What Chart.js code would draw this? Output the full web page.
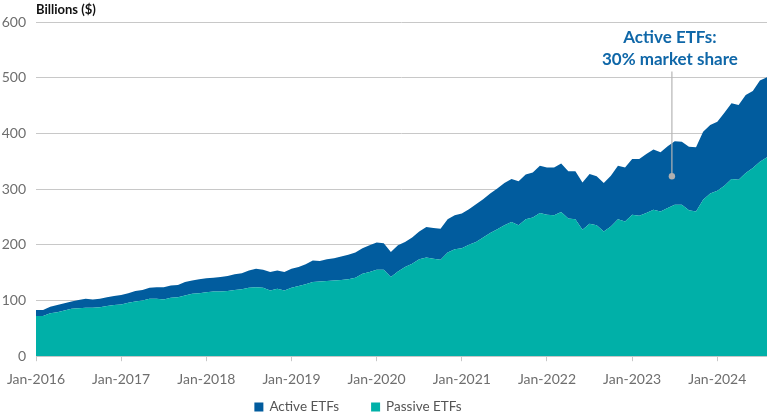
<!DOCTYPE html>
<html>
<head>
<meta charset="utf-8">
<script src="https://cdn.jsdelivr.net/npm/chart.js@4.4.1/dist/chart.umd.min.js"></script>
<style>
  html, body { margin: 0; padding: 0; background: #fff; overflow: hidden; }
  #wrap { width: 767px; height: 415px; position: relative; }
  #etfChart { display: block; }
</style>
</head>
<body>
<div id="wrap"><canvas id="etfChart"></canvas></div>
<script>
// monthly, Jan-2016 .. Aug-2024, billions of dollars
var monthNames = ['Jan', 'Feb', 'Mar', 'Apr', 'May', 'Jun', 'Jul', 'Aug', 'Sep', 'Oct', 'Nov', 'Dec'];
var firstYear = 2016;
var monthCount = 104;

var passiveEtfs = [
    72, 72, 77, 79, 82, 85, 86, 87, 87, 88, 90, 92,
    93, 96, 98, 100, 103, 103, 102, 105, 106, 109, 112, 113,
    115, 116, 116, 117, 119, 120, 123, 124, 123, 118, 121, 118,
    123, 126, 129, 133, 134, 135, 136, 137, 138, 141, 148, 151,
    155, 155, 142, 152, 160, 166, 174, 177, 175, 173, 186, 192,
    194, 200, 205, 213, 221, 228, 235, 241, 235, 246, 249, 257,
    254, 253, 259, 247, 246, 227, 238, 235, 224, 233, 246, 242,
    254, 252, 257, 263, 260, 266, 272, 272, 262, 260, 281, 292,
    297, 306, 318, 317, 329, 338, 349, 357
];
var activeEtfs = [
    11, 11, 12, 13, 13, 13, 15, 16, 15, 15, 16, 16,
    17, 17, 19, 19, 20, 21, 22, 22, 22, 24, 24, 25,
    25, 25, 26, 27, 28, 29, 31, 33, 32, 33, 33, 33,
    34, 34, 36, 39, 37, 39, 40, 42, 44, 45, 46, 48,
    49, 48, 45, 47, 45, 47, 50, 55, 55, 56, 60, 61,
    62, 64, 68, 69, 71, 73, 76, 77, 79, 80, 81, 85,
    85, 86, 87, 85, 86, 85, 89, 88, 87, 91, 96, 97,
    100, 102, 106, 108, 106, 111, 114, 113, 114, 115, 122, 123,
    124, 131, 136, 134, 140, 138, 146, 144
];

// callout: "Active ETFs: 30% market share"
var calloutLines = ['Active ETFs:', '30% market share'];
var calloutPoint = { month: 89.6, value: 323 };

var monthLabels = [];
for (var i = 0; i < monthCount; i++) {
    monthLabels.push(monthNames[i % 12] + '-' + (firstYear + Math.floor(i / 12)));
}

var activeBlue = '#015c9e';
var passiveTeal = '#00b0a8';

var extrasPlugin = {
    id: 'extras',
    afterDatasetsDraw: function (chart) {
        var c = chart.ctx;
        var x = chart.scales.x;
        var y = chart.scales.y;
        var area = chart.chartArea;
        c.save();

        // axis unit above the plot
        c.fillStyle = '#111';
        c.font = 'bold 13px Lato';
        c.textAlign = 'left';
        c.textBaseline = 'middle';
        c.fillText('Billions ($)', area.left, 10);

        // callout text, leader line and dot
        var px = x.getPixelForValue(calloutPoint.month);
        var py = y.getPixelForValue(calloutPoint.value);
        c.fillStyle = '#0f67a8';
        c.font = 'bold 17px Lato';
        c.textAlign = 'center';
        c.fillText(calloutLines[0], px - 2, y.getPixelForValue(572));
        c.fillText(calloutLines[1], px - 2, y.getPixelForValue(532));

        c.strokeStyle = '#b5b5b5';
        c.lineWidth = 1.2;
        c.beginPath();
        c.moveTo(px, y.getPixelForValue(511));
        c.lineTo(px, py);
        c.stroke();
        c.fillStyle = '#b0b0b0';
        c.beginPath();
        c.arc(px, py, 3.2, 0, Math.PI * 2);
        c.fill();

        // legend (Active first), a bit left of centre like the original
        var items = chart.data.datasets.slice().reverse();
        c.font = '13.5px Lato';
        c.textAlign = 'left';
        var box = 9, gap = 6, between = 32;
        var widths = items.map(function (d) { return box + gap + c.measureText(d.label).width; });
        var total = widths.reduce(function (a, b) { return a + b; }, 0) + between * (items.length - 1);
        var lx = 358 - total / 2;
        var ly = chart.height - 8;
        items.forEach(function (d, k) {
            c.fillStyle = d.backgroundColor;
            c.fillRect(lx, ly - box / 2, box, box);
            c.fillStyle = '#555';
            c.fillText(d.label, lx + box + gap, ly);
            lx += widths[k] + between;
        });
        c.restore();
    }
};

var ctx = document.getElementById('etfChart').getContext('2d');
var etfChart = new Chart(ctx, {
    type: 'line',
    data: {
        labels: monthLabels,
        datasets: [{
            label: 'Passive ETFs',
            data: passiveEtfs,
            backgroundColor: passiveTeal,
            borderColor: passiveTeal,
            borderWidth: 0,
            pointRadius: 0,
            fill: 'origin',
            tension: 0
        }, {
            label: 'Active ETFs',
            data: activeEtfs,
            backgroundColor: activeBlue,
            borderColor: activeBlue,
            borderWidth: 0,
            pointRadius: 0,
            fill: '-1',
            tension: 0
        }]
    },
    options: {
        responsive: true,
        maintainAspectRatio: false,
        animation: false,
        layout: { padding: { top: 22, right: 0, left: 0, bottom: 17 } },
        plugins: {
            legend: { display: false },
            tooltip: { enabled: false }
        },
        scales: {
            x: {
                offset: false,
                border: { color: '#c8c8c8' },
                // tick padding also pads the sides; the area should run to the edge
                afterFit: function (scale) {
                    scale.paddingLeft = 0;
                    scale.paddingRight = 0;
                },
                grid: {
                    drawOnChartArea: false,
                    tickLength: 5,
                    color: function (context) {
                        return context.index % 12 === 0 ? '#c8c8c8' : 'rgba(0,0,0,0)';
                    }
                },
                ticks: {
                    autoSkip: false,
                    maxRotation: 0,
                    padding: 10,
                    color: '#6e6e6e',
                    font: { family: 'Lato', size: 14 },
                    callback: function (value, index) {
                        return index % 12 === 0 ? this.getLabelForValue(value) : '';
                    }
                }
            },
            y: {
                stacked: true,
                min: 0,
                max: 600,
                border: { display: false },
                grid: { color: '#c8c8c8', drawTicks: false },
                afterFit: function (scale) { scale.width = 36; },
                ticks: {
                    stepSize: 100,
                    padding: 10,
                    color: '#6e6e6e',
                    font: { family: 'Lato', size: 14 }
                }
            }
        }
    },
    plugins: [extrasPlugin]
});
</script>
</body>
</html>
